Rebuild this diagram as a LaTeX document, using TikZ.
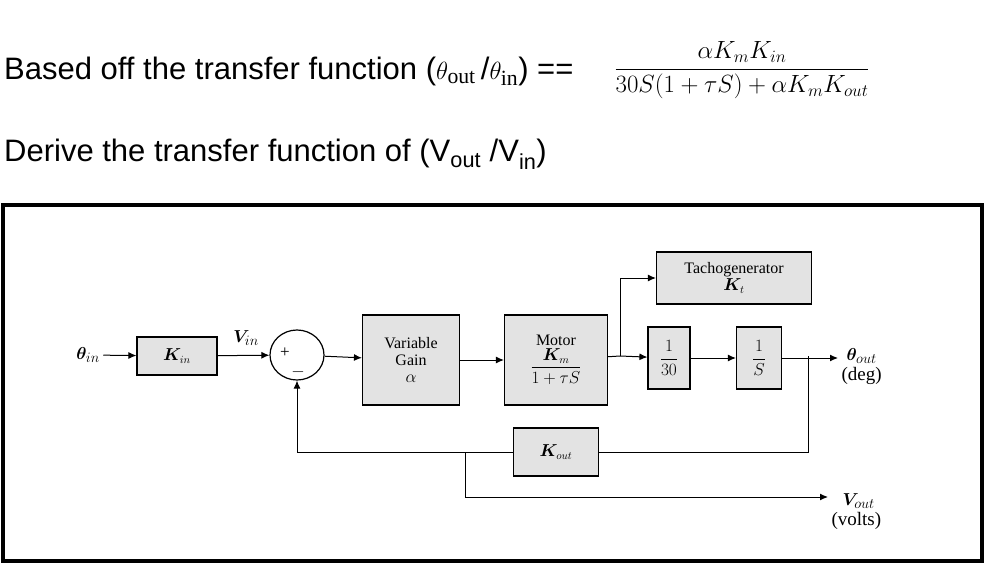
\documentclass[tikz,border=0pt]{standalone}
\usepackage{amsmath,amssymb,bm}
\usepackage{fontspec}
\setmainfont{Liberation Serif}
\newfontfamily\sansf{Liberation Sans}
\usetikzlibrary{arrows.meta,shapes.geometric}
\begin{document}
\begin{tikzpicture}[x=1pt,y=-1pt,
 blk/.style={draw,fill=gray!22,line width=1.2pt,inner sep=0pt,font=\fontsize{16}{17}\selectfont},
 sig/.style={line width=1pt,-{Latex[length=8pt,width=7pt]}},
 ln/.style={line width=1pt},
 lab/.style={font=\fontsize{19}{20}\selectfont}]
\useasboundingbox (0,0) rectangle (985,564);
\node[anchor=base west,font=\sansf\fontsize{31}{34}\selectfont,inner sep=0] (t1) at (4,80) {Based off the transfer function ($\theta_{\mathrm{out}}$\,/$\theta_{\mathrm{in}}$) ==};
\node[font=\fontsize{24}{26}\selectfont] (frac) at (742,70) {$\displaystyle\frac{\alpha K_m K_{in}}{30S(1+\tau S)+\alpha K_m K_{out}}$};
\node[anchor=base west,font=\sansf\fontsize{31}{34}\selectfont,inner sep=0] (t2) at (4,162) {Derive the transfer function of (V\textsubscript{out} /V\textsubscript{in})};
\draw[line width=3.5pt] (3,205) rectangle (982,561);
\node[lab] (thin) at (88,355) {$\bm\theta_{in}$};
\node[blk,minimum width=80,minimum height=38] (kin) at (177,356) {$\bm K_{in}$};
\node[draw,ellipse,line width=1.2pt,minimum width=54,minimum height=50,inner sep=0] (sum) at (297,355) {};
\node[font=\fontsize{17}{18}\selectfont] at (285,353) {+};
\node[font=\fontsize{17}{18}\selectfont] at (298,372) {$-$};
\node[lab] (vin) at (246,338) {$\bm V_{in}$};
\node[blk,minimum width=97,minimum height=90,align=center] (gain) at (411,360) {Variable\\Gain\\$\alpha$};
\node[blk,minimum width=103,minimum height=90,align=center] (motor) at (556,360) {Motor\\[2pt]$\displaystyle\frac{\bm K_m}{1+\tau S}$};
\node[blk,minimum width=155,minimum height=52,align=center] (tacho) at (734,278) {Tachogenerator\\$\bm K_t$};
\node[blk,minimum width=42,minimum height=62] (g30) at (669,358) {$\displaystyle\frac{1}{30}$};
\node[blk,minimum width=45,minimum height=62] (gs) at (759,358) {$\displaystyle\frac{1}{S}$};
\node[blk,minimum width=85,minimum height=48] (kout) at (556,452) {$\bm K_{out}$};
\node[lab,anchor=west,align=center] (thout) at (838,367) {$\bm\theta_{out}$\\(deg)};
\node[lab,anchor=west,align=center] (vout) at (828,512) {$\;\bm V_{out}$\\(volts)};
\coordinate (br) at (620,356);
\coordinate (fb) at (808,356);
\coordinate (fl) at (465,452);
\draw[sig] (thin) -- (kin);
\draw[sig] (kin) -- (sum);
\draw[sig] (sum) -- (gain);
\draw[sig] (gain) -- (motor);
\draw[ln] (motor) -- (br);
\draw[sig] (br) -- (g30);
\draw[sig] (br) |- (tacho.west);
\draw[sig] (g30) -- (gs);
\draw[sig] (gs) -- (thout.west |- gs);
\draw[ln] (fb) |- (kout);
\draw[sig] (kout) -| (sum.south);
\draw[sig] (fl) |- (vout.west |- 0,497);
\end{tikzpicture}
\end{document}
